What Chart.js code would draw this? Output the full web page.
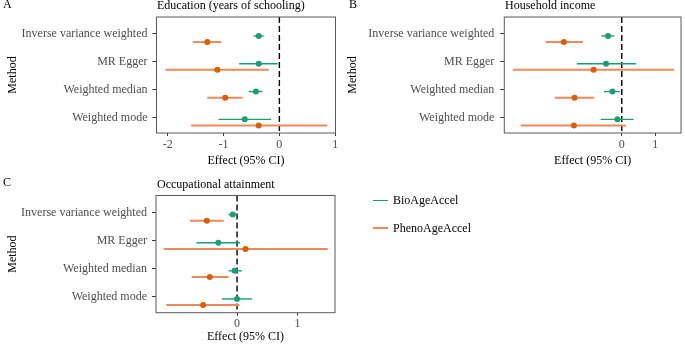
<!DOCTYPE html>
<html lang="en">
<head>
  <meta charset="UTF-8" />
  <title>MR forest plots</title>
  <script src="https://cdn.jsdelivr.net/npm/chart.js@4"></script>
  <style>
    body {
      margin: 0;
      background: #fff;
      font-family: "Liberation Serif", "Times New Roman", serif;
    }
    #page {
      position: relative;
      width: 685px;
      height: 344px;
      overflow: hidden;
    }
    canvas { position: absolute; }
    .txt {
      position: absolute;
      font-size: 12px;
      line-height: 14px;
      color: #000;
      white-space: nowrap;
    }
    .key {
      position: absolute;
      left: 373px;
      width: 15px;
    }
  </style>
</head>
<body>
<div id="page">
  <canvas id="eduChart" width="342" height="172" style="left:0;top:0"></canvas>
  <canvas id="incChart" width="343" height="172" style="left:342px;top:0"></canvas>
  <canvas id="occChart" width="342" height="172" style="left:0;top:172px"></canvas>

  <!-- letras y titulos de panel -->
  <div class="txt" style="left:3px;top:-3px">A</div>
  <div class="txt" style="left:157px;top:-2px">Education (years of schooling)</div>
  <div class="txt" style="left:349px;top:-3px">B</div>
  <div class="txt" style="left:505px;top:-2px">Household income</div>
  <div class="txt" style="left:3px;top:175px">C</div>
  <div class="txt" style="left:157px;top:177px">Occupational attainment</div>

  <!-- leyenda -->
  <div class="key" style="top:200px;height:1.4px;background:#1b9e77"></div>
  <div class="txt" style="left:393px;top:193px">BioAgeAccel</div>
  <div class="key" style="top:227px;height:2.2px;background:#ec8a5e"></div>
  <div class="txt" style="left:393px;top:221px">PhenoAgeAccel</div>
</div>

<script>
  // Datos
  const methods = ['Inverse variance weighted', 'MR Egger', 'Weighted median', 'Weighted mode'];

  const eduTicks = [-2, -1, 0, 1];
  const incTicks = [0, 1];
  const occTicks = [0, 1];

  // Education (years of schooling)
  const eduBio = [-0.37, -0.37, -0.42, -0.62];
  const eduBioLow = [-0.46, -0.72, -0.55, -1.09];
  const eduBioHigh = [-0.28, -0.03, -0.30, -0.15];
  const eduPheno = [-1.29, -1.11, -0.97, -0.37];
  const eduPhenoLow = [-1.55, -2.04, -1.29, -1.58];
  const eduPhenoHigh = [-1.04, -0.19, -0.66, 0.86];

  // Household income
  const incBio = [-0.41, -0.47, -0.28, -0.13];
  const incBioLow = [-0.61, -1.34, -0.53, -0.63];
  const incBioHigh = [-0.22, 0.43, -0.06, 0.35];
  const incPheno = [-1.73, -0.84, -1.41, -1.43];
  const incPhenoLow = [-2.27, -3.25, -2.00, -3.02];
  const incPhenoHigh = [-1.16, 1.56, -0.83, 0.12];

  // Occupational attainment
  const occBio = [-0.07, -0.31, -0.04, 0.00];
  const occBioLow = [-0.14, -0.67, -0.14, -0.25];
  const occBioHigh = [0.00, 0.05, 0.08, 0.25];
  const occPheno = [-0.50, 0.14, -0.45, -0.56];
  const occPhenoLow = [-0.78, -1.21, -0.75, -1.17];
  const occPhenoHigh = [-0.22, 1.50, -0.14, 0.04];

  Chart.defaults.font.family = '"Liberation Serif", "Times New Roman", serif';
  Chart.defaults.font.size = 12;

  const green = '#1b9e77';
  const orange = '#d95f02';

  // Linea en cero, barras de IC y borde del panel
  const forestPlugin = {
    id: 'forest',
    beforeDatasetsDraw(chart) {
      const { ctx, chartArea: a, scales: { x } } = chart;
      ctx.save();
      const x0 = x.getPixelForValue(0);
      ctx.strokeStyle = '#000';
      ctx.lineWidth = 1.4;
      ctx.setLineDash([6, 3]);
      ctx.beginPath();
      ctx.moveTo(x0, a.top);
      ctx.lineTo(x0, a.bottom);
      ctx.stroke();
      ctx.setLineDash([]);

      chart.data.datasets.forEach((ds, i) => {
        const meta = chart.getDatasetMeta(i);
        ctx.strokeStyle = ds.ciColor;
        ctx.lineWidth = ds.ciWidth;
        ds.ciLow.forEach((lo, j) => {
          const y = meta.data[j].y;
          ctx.beginPath();
          ctx.moveTo(x.getPixelForValue(lo), y);
          ctx.lineTo(x.getPixelForValue(ds.ciHigh[j]), y);
          ctx.stroke();
        });
      });
      ctx.restore();
    },
    afterDatasetsDraw(chart) {
      const { ctx, chartArea: a } = chart;
      ctx.save();
      ctx.strokeStyle = '#5a5a5a';
      ctx.lineWidth = 1;
      ctx.strokeRect(a.left, a.top, a.right - a.left, a.bottom - a.top);
      ctx.restore();
    }
  };

  function points(est, shift) {
    return est.map((v, i) => ({ x: v, y: i + 1 + shift }));
  }

  function makePanel(id, p) {
    new Chart(document.getElementById(id), {
      type: 'scatter',
      data: {
        datasets: [
          {
            label: 'BioAgeAccel',
            data: points(p.bio, 0.07),
            ciLow: p.bioLow, ciHigh: p.bioHigh,
            ciColor: green, ciWidth: 1.4,
            backgroundColor: green,
            pointRadius: 3,
            borderWidth: 0
          },
          {
            label: 'PhenoAgeAccel',
            data: points(p.pheno, 0.29),
            ciLow: p.phenoLow, ciHigh: p.phenoHigh,
            ciColor: '#ec8a5e', ciWidth: 2,
            backgroundColor: orange,
            pointRadius: 3,
            borderWidth: 0
          }
        ]
      },
      options: {
        responsive: false,
        animation: false,
        devicePixelRatio: 1,
        layout: { padding: { left: 0, right: p.padRight, top: p.padTop, bottom: 0 } },
        plugins: { legend: { display: false }, tooltip: { enabled: false } },
        scales: {
          x: {
            type: 'linear',
            min: p.xMin,
            max: p.xMax,
            afterBuildTicks: s => { s.ticks = p.xTicks.map(v => ({ value: v })); },
            afterFit: s => { s.height = p.xHeight; },
            ticks: {
              color: '#4d4d4d',
              padding: p.xTickPad,
              maxRotation: 0,
              autoSkip: false,
              callback: v => String(v)
            },
            grid: { drawOnChartArea: false, tickLength: 3, color: '#333' },
            border: { display: false },
            title: {
              display: true,
              text: 'Effect (95% CI)',
              color: '#000',
              padding: { top: 0, bottom: p.xTitlePad }
            }
          },
          y: {
            type: 'linear',
            reverse: true,
            min: 0.39,
            max: 4.56,
            afterBuildTicks: s => { s.ticks = methods.map((m, i) => ({ value: i + 1 })); },
            afterFit: s => { s.width = p.yWidth; },
            ticks: {
              color: '#4d4d4d',
              padding: p.yTickPad,
              autoSkip: false,
              callback: v => methods[v - 1] || ''
            },
            grid: { drawOnChartArea: false, tickLength: 4, color: '#333' },
            border: { display: false },
            title: {
              display: true,
              text: 'Method',
              color: '#000',
              padding: { top: p.yTitlePad, bottom: 0 }
            }
          }
        }
      },
      plugins: [forestPlugin]
    });
  }

  makePanel('eduChart', {
    bio: eduBio, bioLow: eduBioLow, bioHigh: eduBioHigh,
    pheno: eduPheno, phenoLow: eduPhenoLow, phenoHigh: eduPhenoHigh,
    xTicks: eduTicks, xMin: -2.2, xMax: 1.005,
    padTop: 17, padRight: 6.5, yWidth: 156.5, xHeight: 39,
    yTickPad: 5, xTickPad: 2, yTitlePad: 5.8, xTitlePad: 4
  });

  makePanel('incChart', {
    bio: incBio, bioLow: incBioLow, bioHigh: incBioHigh,
    pheno: incPheno, phenoLow: incPhenoLow, phenoHigh: incPhenoHigh,
    xTicks: incTicks, xMin: -3.51, xMax: 1.77,
    padTop: 17, padRight: 1, yWidth: 162.3, xHeight: 39,
    yTickPad: 6, xTickPad: 2, yTitlePad: 4, xTitlePad: 4
  });

  makePanel('occChart', {
    bio: occBio, bioLow: occBioLow, bioHigh: occBioHigh,
    pheno: occPheno, phenoLow: occPhenoLow, phenoHigh: occPhenoHigh,
    xTicks: occTicks, xMin: -1.34, xMax: 1.62,
    padTop: 23.5, padRight: 7, yWidth: 156, xHeight: 31.3,
    yTickPad: 5, xTickPad: 1, yTitlePad: 6, xTitlePad: 0
  });
</script>
</body>
</html>
